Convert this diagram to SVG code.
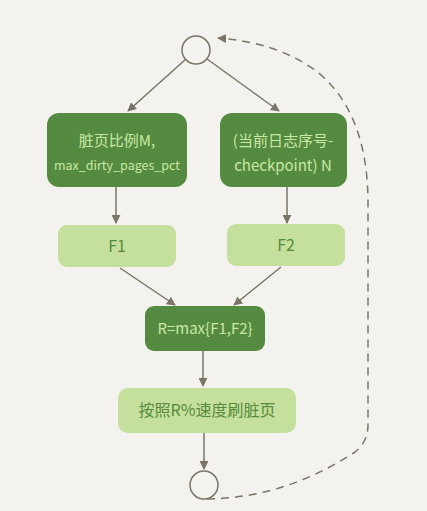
<svg xmlns="http://www.w3.org/2000/svg" width="427" height="511" viewBox="0 0 427 511">
<defs>
<style>
.dark{fill:#558b40}
.light{fill:#c5df9c}
.dt{fill:#c9e8a4;font-family:"Noto Sans CJK SC","Liberation Sans",sans-serif;font-size:15px;text-anchor:middle}
.sm{font-size:12.5px}
.lt{fill:#578a3d;font-family:"Noto Sans CJK SC","Liberation Sans",sans-serif;font-size:16px;text-anchor:middle}
.ln{stroke:#7b7566;stroke-width:1.5;fill:none}
.circ{fill:#f4f3ef;stroke:#7b7566;stroke-width:1.5}
</style>
<marker id="ah" viewBox="0 0 10 10" refX="9" refY="5" markerWidth="6" markerHeight="6" orient="auto-start-reverse">
<path d="M0,0 L10,5 L0,10 z" fill="#7b7566"/>
</marker>
</defs>
<rect width="427" height="511" fill="#f3f2ee"/>
<g id="connectors">
<line class="ln" x1="186" y1="59" x2="128" y2="111" marker-end="url(#ah)"/>
<line class="ln" x1="207" y1="59" x2="279" y2="111" marker-end="url(#ah)"/>
<line class="ln" x1="116" y1="187" x2="116" y2="223" marker-end="url(#ah)"/>
<line class="ln" x1="287" y1="187" x2="287" y2="223" marker-end="url(#ah)"/>
<line class="ln" x1="120" y1="268" x2="175" y2="305" marker-end="url(#ah)"/>
<line class="ln" x1="281" y1="267" x2="234" y2="305" marker-end="url(#ah)"/>
<line class="ln" x1="203" y1="351" x2="203" y2="386" marker-end="url(#ah)"/>
<line class="ln" x1="204" y1="433" x2="204" y2="469" marker-end="url(#ah)"/>
<path class="ln" stroke-dasharray="8,6" d="M207 499 Q 285 498 355 452 Q 368 442 368 425 L 368 200 Q 367 110 315 70 Q 275 42 218 38" marker-end="url(#ah)"/>
</g>
<g id="start"><circle class="circ" cx="196" cy="50" r="14"/></g>
<g id="n1"><rect class="dark" x="47" y="113" width="140" height="74" rx="12"/>
<text class="dt" x="117" y="146">脏页比例M,</text>
<text class="dt sm" x="117" y="170">max_dirty_pages_pct</text></g>
<g id="n2"><rect class="dark" x="220" y="113" width="127" height="74" rx="12"/>
<text class="dt" x="283" y="146">(当前日志序号-</text>
<text class="dt" x="283" y="171">checkpoint) N</text></g>
<g id="f1"><rect class="light" x="58" y="225" width="118" height="42" rx="9"/>
<text class="lt" x="117" y="252">F1</text></g>
<g id="f2"><rect class="light" x="227" y="224" width="118" height="42" rx="9"/>
<text class="lt" x="286" y="251">F2</text></g>
<g id="r"><rect class="dark" x="145" y="306" width="120" height="45" rx="9"/>
<text class="dt" x="205" y="334">R=max{F1,F2}</text></g>
<g id="flush"><rect class="light" x="118" y="388" width="178" height="45" rx="10"/>
<text class="lt" x="207" y="416">按照R%速度刷脏页</text></g>
<g id="end"><circle class="circ" cx="204" cy="485" r="14"/></g>
</svg>
